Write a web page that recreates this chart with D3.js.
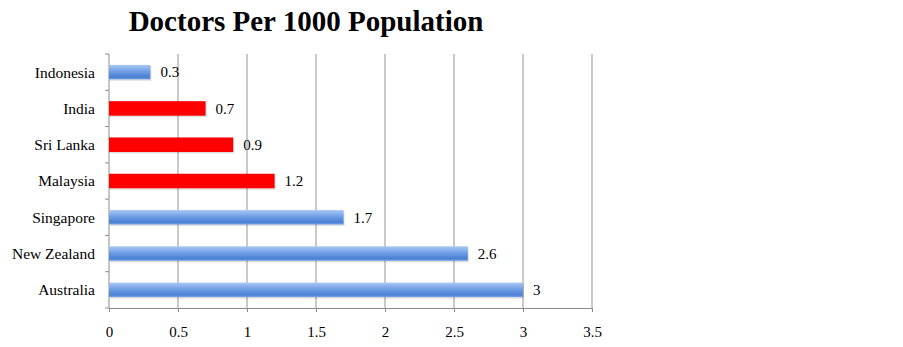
<!DOCTYPE html>
<html>
<head>
<meta charset="utf-8">
<script src="https://cdn.jsdelivr.net/npm/d3@7"></script>
<style>
  body { margin: 0; background: #fff; }
  text { font-family: "Liberation Serif", "DejaVu Serif", serif; }
  .title { font-weight: bold; font-size: 29px; }
</style>
</head>
<body>
<svg id="barplot"></svg>
<script>
// chart data
var countries = ["Indonesia", "India", "Sri Lanka", "Malaysia", "Singapore", "New Zealand", "Australia"];
var doctors = [0.3, 0.7, 0.9, 1.2, 1.7, 2.6, 3];
var highlight = ["India", "Sri Lanka", "Malaysia"];
var xTicks = [0, 0.5, 1, 1.5, 2, 2.5, 3, 3.5];

var data = countries.map(function(c, i) { return {country: c, value: doctors[i]}; });

var margin = {top: 54, right: 311, bottom: 39, left: 109},
    width = 903 - margin.left - margin.right,
    height = 347 - margin.top - margin.bottom;

var root = d3.select("#barplot")
  .attr("width", 903)
  .attr("height", 347);

var defs = root.append("defs");
var grad = defs.append("linearGradient")
  .attr("id", "blueGrad")
  .attr("x1", 0).attr("y1", 0).attr("x2", 0).attr("y2", 1);
grad.append("stop").attr("offset", "0%").attr("stop-color", "#a9c8f4");
grad.append("stop").attr("offset", "45%").attr("stop-color", "#6f9ee6");
grad.append("stop").attr("offset", "85%").attr("stop-color", "#4a7fd2");
grad.append("stop").attr("offset", "100%").attr("stop-color", "#7aa6e8");

var svg = root.append("g")
  .attr("transform", "translate(" + margin.left + "," + margin.top + ")");

var x = d3.scaleLinear()
  .domain([0, 3.5])
  .range([0, width]);

var y = d3.scaleBand()
  .domain(countries)
  .range([0, height])
  .paddingInner(0.6)
  .paddingOuter(0.3);

// gridlines
svg.selectAll(".grid")
  .data(xTicks.slice(1))
  .enter()
  .append("line")
    .attr("x1", function(d) { return x(d); })
    .attr("x2", function(d) { return x(d); })
    .attr("y1", 0)
    .attr("y2", height)
    .attr("stroke", "#a6a6a6")
    .attr("stroke-width", 1.2);

// X axis
var xAxis = svg.append("g")
  .attr("transform", "translate(0," + height + ")")
  .call(d3.axisBottom(x).tickValues(xTicks).tickFormat(d3.format("")).tickSize(4).tickPadding(14));
xAxis.select(".domain").attr("stroke", "#8c8c8c");
xAxis.selectAll(".tick line").attr("stroke", "#8c8c8c");
xAxis.selectAll("text").style("font-size", "15px").attr("fill", "#000");

// Y axis
var yBand = d3.scalePoint().domain(d3.range(countries.length + 1)).range([0, height]);
svg.append("g")
  .selectAll("line")
  .data(yBand.domain())
  .enter()
  .append("line")
    .attr("x1", -4).attr("x2", 0)
    .attr("y1", function(d) { return yBand(d); })
    .attr("y2", function(d) { return yBand(d); })
    .attr("stroke", "#8c8c8c");
svg.append("line")
  .attr("x1", 0).attr("x2", 0)
  .attr("y1", 0).attr("y2", height)
  .attr("stroke", "#8c8c8c");

svg.selectAll(".ylab")
  .data(countries)
  .enter()
  .append("text")
    .attr("x", -14)
    .attr("y", function(d) { return y(d) + y.bandwidth() / 2; })
    .attr("dy", "0.35em")
    .attr("text-anchor", "end")
    .style("font-size", "15.5px")
    .text(function(d) { return d; });

// shadows
svg.selectAll(".shadow")
  .data(data)
  .enter()
  .append("rect")
    .attr("x", 1)
    .attr("y", function(d) { return y(d.country) + 1.5; })
    .attr("width", function(d) { return x(d.value); })
    .attr("height", y.bandwidth())
    .attr("fill", "#000")
    .attr("opacity", 0.12);

// Bars
svg.selectAll(".bar")
  .data(data)
  .enter()
  .append("rect")
    .attr("x", 0)
    .attr("y", function(d) { return y(d.country); })
    .attr("width", function(d) { return x(d.value); })
    .attr("height", y.bandwidth())
    .attr("fill", function(d) { return highlight.indexOf(d.country) >= 0 ? "#ff0000" : "url(#blueGrad)"; });

// value labels
svg.selectAll(".val")
  .data(data)
  .enter()
  .append("text")
    .attr("x", function(d) { return x(d.value) + 10; })
    .attr("y", function(d) { return y(d.country) + y.bandwidth() / 2; })
    .attr("dy", "0.35em")
    .style("font-size", "15px")
    .text(function(d) { return d.value; });

// title
root.append("text")
  .attr("class", "title")
  .attr("x", 306)
  .attr("y", 31)
  .attr("text-anchor", "middle")
  .text("Doctors Per 1000 Population");
</script>
</body>
</html>
